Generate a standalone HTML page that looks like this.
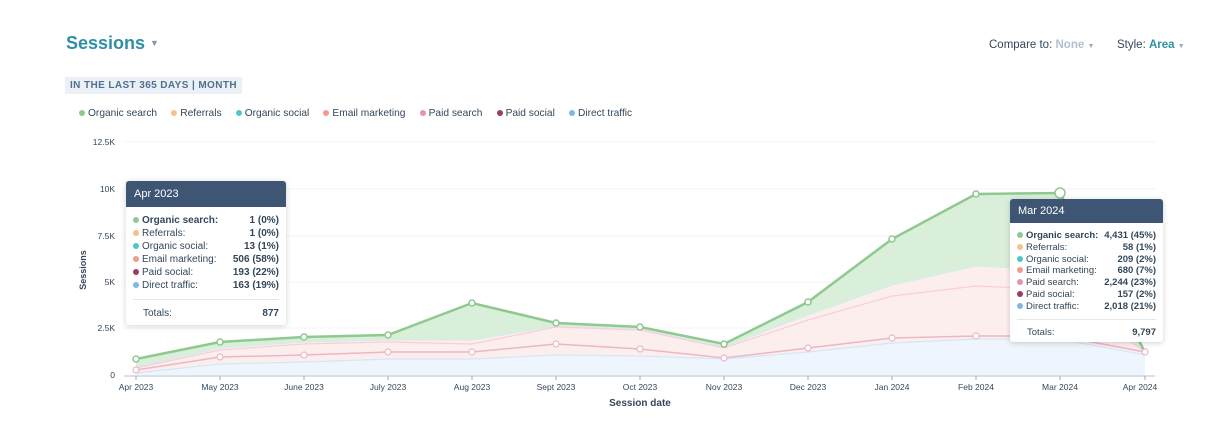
<!DOCTYPE html><html><head><style>
body{margin:0;width:1232px;height:444px;background:#fff;font-family:"Liberation Sans",sans-serif;overflow:hidden;position:relative;color:#33475b}
.a{position:absolute}
.tt{position:absolute;background:#fff;box-shadow:0 1px 6px rgba(0,0,0,.18);border-radius:3px;font-size:10px;color:#33475b;white-space:nowrap}
.tt .h{background:#3e5674;color:#fff;font-size:11px;padding:0 8px;border-radius:3px 3px 0 0}
.row{display:flex;justify-content:space-between;line-height:11.8px;padding:0 7px}
.row b{font-weight:bold}
.d{display:inline-block;width:6px;height:6px;border-radius:50%;margin-right:3px;vertical-align:0}
</style></head><body>
<div class="a" style="left:66px;top:33px;font-size:18px;font-weight:bold;color:#2f8fa6">Sessions <span style="font-size:9px;color:#7c98b6;vertical-align:3px">▼</span></div>
<div class="a" style="left:989px;top:39px;font-size:11.5px">Compare to: <span style="color:#b0c1d4;font-weight:bold">None</span> <span style="font-size:7px;color:#99aabb">▼</span></div>
<div class="a" style="left:1117px;top:39px;font-size:11.5px">Style: <span style="color:#2f8fa6;font-weight:bold">Area</span> <span style="font-size:7px;color:#99aabb">▼</span></div>
<div class="a" style="left:65px;top:77px;background:#eaf0f6;padding:2px 5px;font-size:10px;font-weight:bold;color:#516f90;height:13px;line-height:13px;letter-spacing:0.4px">IN THE LAST 365 DAYS | MONTH</div>
<div class="a" style="left:79px;top:108px;font-size:10.2px;color:#33475b;white-space:nowrap">
<span class="d" style="background:#8fc98f"></span>Organic search&nbsp;&nbsp;&nbsp;&nbsp;&nbsp;<span class="d" style="background:#f5c28b"></span>Referrals&nbsp;&nbsp;&nbsp;&nbsp;&nbsp;<span class="d" style="background:#4fc7c7"></span>Organic social&nbsp;&nbsp;&nbsp;&nbsp;&nbsp;<span class="d" style="background:#f29c8a"></span>Email marketing&nbsp;&nbsp;&nbsp;&nbsp;&nbsp;<span class="d" style="background:#ea90b1"></span>Paid search&nbsp;&nbsp;&nbsp;&nbsp;&nbsp;<span class="d" style="background:#9a3e5e"></span>Paid social&nbsp;&nbsp;&nbsp;&nbsp;&nbsp;<span class="d" style="background:#7fb7e8"></span>Direct traffic</div>
<svg class="a" style="left:0;top:0" width="1232" height="444" font-family="Liberation Sans" font-size="8.5" fill="#33475b">
<g stroke="#e5e8eb" stroke-dasharray="1,1">
<line x1="124" x2="1155" y1="142" y2="142"/><line x1="124" x2="1155" y1="189" y2="189"/><line x1="124" x2="1155" y1="236" y2="236"/><line x1="124" x2="1155" y1="282" y2="282"/><line x1="124" x2="1155" y1="328" y2="328"/></g>
<g text-anchor="end"><text x="115" y="145">12.5K</text><text x="115" y="192">10K</text><text x="115" y="239">7.5K</text><text x="115" y="285">5K</text><text x="115" y="331">2.5K</text><text x="115" y="378">0</text></g>
<polygon fill="#d9efd9" points="136,359 220,342 304,337 388,335 472,303 556,323 640,327 724,344 808,302 892,239 976,194 1060,193 1145,352 1145,375 136,375"/>
<polygon fill="#fdeeee" points="136,367 220,348 304,342 388,340 472,340 556,326 640,329 724,347 808,315 892,285 976,266 1060,270 1145,352 1145,375 136,375"/>
<polygon fill="#eef5fc" points="136,373 220,364 304,362 388,359 472,359 556,355 640,356 724,359 808,352 892,343 976,339 1060,339 1145,355 1145,375 136,375"/>
<polyline fill="none" stroke="#d7ecec" stroke-width="1.2" points="136,367 220,348 304,342 388,340 472,340 556,326 640,329 724,347 808,315 892,285 976,266 1060,270 1145,352"/>
<polyline fill="none" stroke="#f6d0d6" stroke-width="1.2" points="136,368 220,350 304,344 388,342 472,344 556,327 640,330 724,348 808,320 892,296 976,286 1060,290 1145,352"/>
<polyline fill="none" stroke="#e9b8c8" stroke-width="1.5" points="136,370 220,357 304,355 388,352 472,352 556,344 640,349 724,358 808,348 892,338 976,336 1060,336 1145,352"/>
<polyline fill="none" stroke="#d6e6f6" stroke-width="1.2" points="136,373 220,364 304,362 388,359 472,359 556,355 640,356 724,359 808,352 892,343 976,339 1060,339 1145,355"/>
<polyline fill="none" stroke="#8fc98f" stroke-width="2.5" points="136,359 220,342 304,337 388,335 472,303 556,323 640,327 724,344 808,302 892,239 976,194 1060,193 1145,352"/>
<g fill="#fff" stroke="#e9b8c8" stroke-width="1.2"><circle cx="136" cy="370" r="3"/><circle cx="220" cy="357" r="3"/><circle cx="304" cy="355" r="3"/><circle cx="388" cy="352" r="3"/><circle cx="472" cy="352" r="3"/><circle cx="556" cy="344" r="3"/><circle cx="640" cy="349" r="3"/><circle cx="724" cy="358" r="3"/><circle cx="808" cy="348" r="3"/><circle cx="892" cy="338" r="3"/><circle cx="976" cy="336" r="3"/><circle cx="1145" cy="352" r="3"/></g>
<g fill="#fff" stroke="#8fc98f" stroke-width="1.5"><circle cx="136" cy="359" r="3"/><circle cx="220" cy="342" r="3"/><circle cx="304" cy="337" r="3"/><circle cx="388" cy="335" r="3"/><circle cx="472" cy="303" r="3"/><circle cx="556" cy="323" r="3"/><circle cx="640" cy="327" r="3"/><circle cx="724" cy="344" r="3"/><circle cx="808" cy="302" r="3"/><circle cx="892" cy="239" r="3"/><circle cx="976" cy="194" r="3"/><circle cx="1060" cy="193" r="5"/></g>
<line x1="124" x2="1155" y1="376" y2="376" stroke="#cbd6e2" stroke-width="1.5"/>
<g stroke="#99aabb"><line x1="136" x2="136" y1="376" y2="380"/><line x1="220" x2="220" y1="376" y2="380"/><line x1="304" x2="304" y1="376" y2="380"/><line x1="388" x2="388" y1="376" y2="380"/><line x1="472" x2="472" y1="376" y2="380"/><line x1="556" x2="556" y1="376" y2="380"/><line x1="640" x2="640" y1="376" y2="380"/><line x1="724" x2="724" y1="376" y2="380"/><line x1="808" x2="808" y1="376" y2="380"/><line x1="892" x2="892" y1="376" y2="380"/><line x1="976" x2="976" y1="376" y2="380"/><line x1="1060" x2="1060" y1="376" y2="380"/><line x1="1145" x2="1145" y1="376" y2="380"/></g>
<g text-anchor="middle"><text x="136" y="390">Apr 2023</text><text x="220" y="390">May 2023</text><text x="304" y="390">June 2023</text><text x="388" y="390">July 2023</text><text x="472" y="390">Aug 2023</text><text x="556" y="390">Sept 2023</text><text x="640" y="390">Oct 2023</text><text x="724" y="390">Nov 2023</text><text x="808" y="390">Dec 2023</text><text x="892" y="390">Jan 2024</text><text x="976" y="390">Feb 2024</text><text x="1060" y="390">Mar 2024</text><text x="1140" y="390">Apr 2024</text>
<text x="640" y="406" font-size="10" font-weight="bold">Session date</text>
<text transform="translate(86,270) rotate(-90)" font-size="9" font-weight="bold">Sessions</text></g>
</svg>
<div class="tt" style="left:126px;top:181px;width:160px;height:144px">
<div class="h" style="height:26px;line-height:26px">Apr 2023</div>
<div style="height:7px"></div>
<div class="row" style="line-height:13px"><span><span class="d" style="background:#8fc98f"></span><b>Organic search:</b></span><b>1 (0%)</b></div>
<div class="row" style="line-height:13px"><span><span class="d" style="background:#f5c28b"></span>Referrals:</span><b>1 (0%)</b></div>
<div class="row" style="line-height:13px"><span><span class="d" style="background:#4fc7c7"></span>Organic social:</span><b>13 (1%)</b></div>
<div class="row" style="line-height:13px"><span><span class="d" style="background:#f29c8a"></span>Email marketing:</span><b>506 (58%)</b></div>
<div class="row" style="line-height:13px"><span><span class="d" style="background:#9a3e5e"></span>Paid social:</span><b>193 (22%)</b></div>
<div class="row" style="line-height:13px"><span><span class="d" style="background:#7fb7e8"></span>Direct traffic:</span><b>163 (19%)</b></div>
<div style="border-top:1px solid #e5e8eb;margin:7px 7px 0"></div>
<div class="row" style="padding:8px 7px 0 17px"><span>Totals:</span><b>877</b></div>
</div>
<div class="tt" style="left:1010px;top:199px;width:153px;height:143px;font-size:9.5px">
<div class="h" style="height:24px;line-height:24px">Mar 2024</div>
<div style="height:7px"></div>
<div class="row"><span><span class="d" style="background:#8fc98f"></span><b>Organic search:</b></span><b>4,431 (45%)</b></div>
<div class="row"><span><span class="d" style="background:#f5c28b"></span>Referrals:</span><b>58 (1%)</b></div>
<div class="row"><span><span class="d" style="background:#4fc7c7"></span>Organic social:</span><b>209 (2%)</b></div>
<div class="row"><span><span class="d" style="background:#f29c8a"></span>Email marketing:</span><b>680 (7%)</b></div>
<div class="row"><span><span class="d" style="background:#ea90b1"></span>Paid search:</span><b>2,244 (23%)</b></div>
<div class="row"><span><span class="d" style="background:#9a3e5e"></span>Paid social:</span><b>157 (2%)</b></div>
<div class="row"><span><span class="d" style="background:#7fb7e8"></span>Direct traffic:</span><b>2,018 (21%)</b></div>
<div style="border-top:1px solid #e5e8eb;margin:6px 7px 0"></div>
<div class="row" style="padding:7px 7px 0 17px"><span>Totals:</span><b>9,797</b></div>
</div>
</body></html>
